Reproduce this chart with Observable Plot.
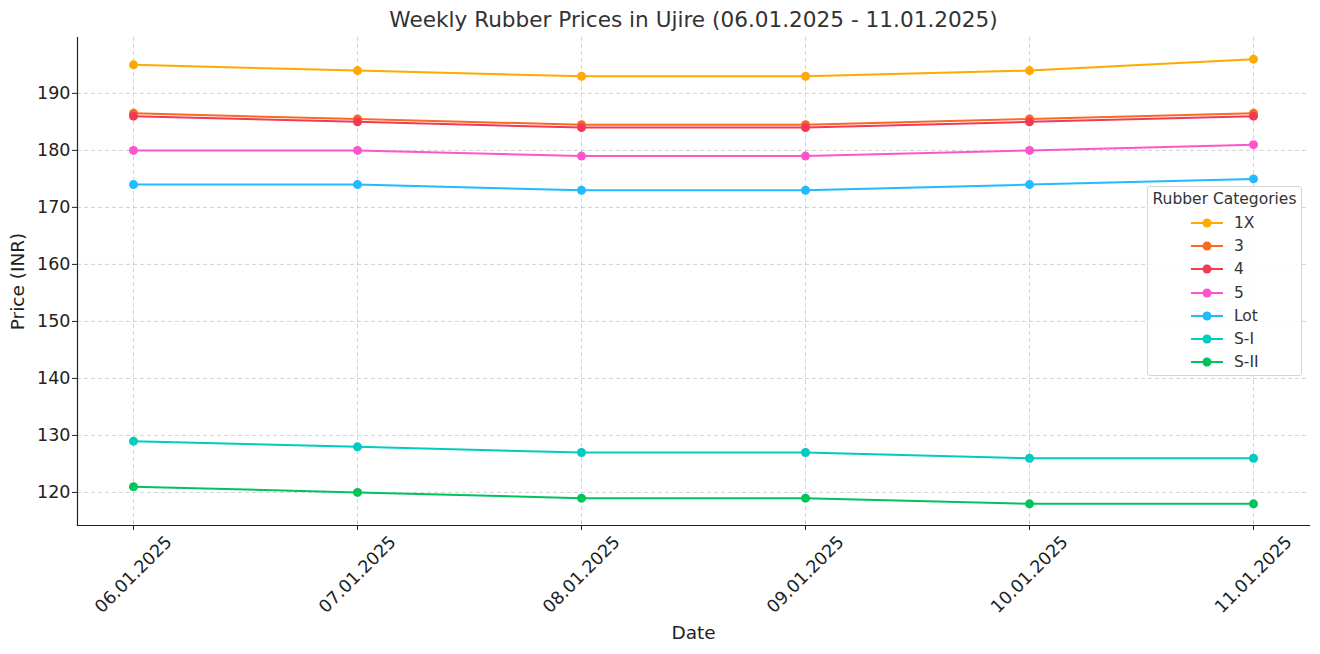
<!DOCTYPE html>
<html>
<head>
<meta charset="utf-8">
<script src="https://cdn.jsdelivr.net/npm/d3@7"></script>
<script src="https://cdn.jsdelivr.net/npm/@observablehq/plot@0.6"></script>
<style>
  html, body { margin: 0; padding: 0; background: white; }
  #wrap { position: relative; width: 1320px; height: 654px; font-family: "DejaVu Sans", sans-serif; }
  #legend { position: absolute; left: 1147px; top: 186px; width: 153px; height: 188px;
    border: 1px solid #d5d5d5; border-radius: 3px; background: rgba(255,255,255,0.85); }
  #legend .title { position: absolute; left: 0; width: 100%; top: 3px; text-align: center; font-size: 15.5px; color: #333; }
  #legend .row { position: absolute; left: 0; height: 20px; width: 100%; }
  #legend .row svg { position: absolute; left: 42px; top: 0; }
  #legend .row span { position: absolute; left: 86px; top: 0px; font-size: 15.5px; color: #333; line-height: 20px; }
</style>
</head>
<body>
<div id="wrap"></div>
<script>
const dates = ["06.01.2025", "07.01.2025", "08.01.2025", "09.01.2025", "10.01.2025", "11.01.2025"];
const categories = ["1X", "3", "4", "5", "Lot", "S-I", "S-II"];
const colors = ["#FFAA00", "#FA6A22", "#F33A55", "#FF55CC", "#22BBFF", "#00CCBF", "#00C35E"];
const v1X  = [195, 194, 193, 193, 194, 196];
const v3   = [186.5, 185.5, 184.5, 184.5, 185.5, 186.5];
const v4   = [186, 185, 184, 184, 185, 186];
const v5   = [180, 180, 179, 179, 180, 181];
const vLot = [174, 174, 173, 173, 174, 175];
const vSI  = [129, 128, 127, 127, 126, 126];
const vSII = [121, 120, 119, 119, 118, 118];
const yTicks = [120, 130, 140, 150, 160, 170, 180, 190];
const yDomain = [114.2, 199.8];
const title = "Weekly Rubber Prices in Ujire (06.01.2025 - 11.01.2025)";

const seriesValues = [v1X, v3, v4, v5, vLot, vSI, vSII];
const data = [];
categories.forEach((c, i) => {
  seriesValues[i].forEach((v, j) => data.push({cat: c, date: dates[j], price: v}));
});

const chart = Plot.plot({
  width: 1320, height: 654,
  marginLeft: 77, marginRight: 11, marginTop: 37, marginBottom: 129,
  style: {fontFamily: "DejaVu Sans, sans-serif", background: "white", overflow: "visible", fontSize: "17.5px"},
  x: {type: "point", domain: dates, padding: 0.25, axis: null},
  y: {domain: yDomain, axis: null},
  color: {domain: categories, range: colors},
  marks: [
    Plot.gridX(dates, {stroke: "#b8b8b8", strokeOpacity: 0.8, strokeDasharray: "4,3", strokeWidth: 0.8}),
    Plot.gridY(yTicks, {stroke: "#b8b8b8", strokeOpacity: 0.8, strokeDasharray: "4,3", strokeWidth: 0.8}),
    Plot.line(data, {x: "date", y: "price", z: "cat", stroke: "cat", strokeWidth: 2}),
    Plot.dot(data, {x: "date", y: "price", fill: "cat", r: 4.5}),
    Plot.axisX(dates, {tickSize: 5, tickFormat: () => "", label: null, stroke: "#222"}),
    Plot.axisY(yTicks, {tickSize: 5, tickFormat: () => "", label: null, stroke: "#222"}),
    Plot.text(yTicks, {y: d => d, frameAnchor: "left", dx: -7, textAnchor: "end", lineAnchor: "middle", fontSize: 17.5, fill: "#222"}),
    Plot.text(dates, {x: d => d, frameAnchor: "bottom", dy: 49, rotate: -45, textAnchor: "middle", lineAnchor: "middle", fontSize: 17.5, fill: "#222"}),
    Plot.frame({anchor: "left", stroke: "#222", strokeWidth: 1.2}),
    Plot.frame({anchor: "bottom", stroke: "#222", strokeWidth: 1.2}),
    Plot.text([title], {frameAnchor: "top", dy: -17, lineAnchor: "middle", fontSize: 21.6, fill: "#333"}),
    Plot.text(["Date"], {frameAnchor: "bottom", dy: 108, lineAnchor: "middle", fontSize: 18.5, fill: "#222"}),
    Plot.text(["Price (INR)"], {frameAnchor: "left", dx: -59, rotate: -90, lineAnchor: "middle", textAnchor: "middle", fontSize: 18.5, fill: "#222"})
  ]
});

const wrap = document.getElementById("wrap");
wrap.appendChild(chart);

const legend = document.createElement("div");
legend.id = "legend";
const lt = document.createElement("div");
lt.className = "title";
lt.textContent = "Rubber Categories";
legend.appendChild(lt);
categories.forEach((c, i) => {
  const row = document.createElement("div");
  row.className = "row";
  row.style.top = (26 + i * 23.2) + "px";
  row.innerHTML = `<svg width="34" height="20"><line x1="1" x2="33" y1="10" y2="10" stroke="${colors[i]}" stroke-width="2"/><circle cx="17" cy="10" r="4.5" fill="${colors[i]}"/></svg><span>${c}</span>`;
  legend.appendChild(row);
});
wrap.appendChild(legend);
</script>
</body>
</html>
